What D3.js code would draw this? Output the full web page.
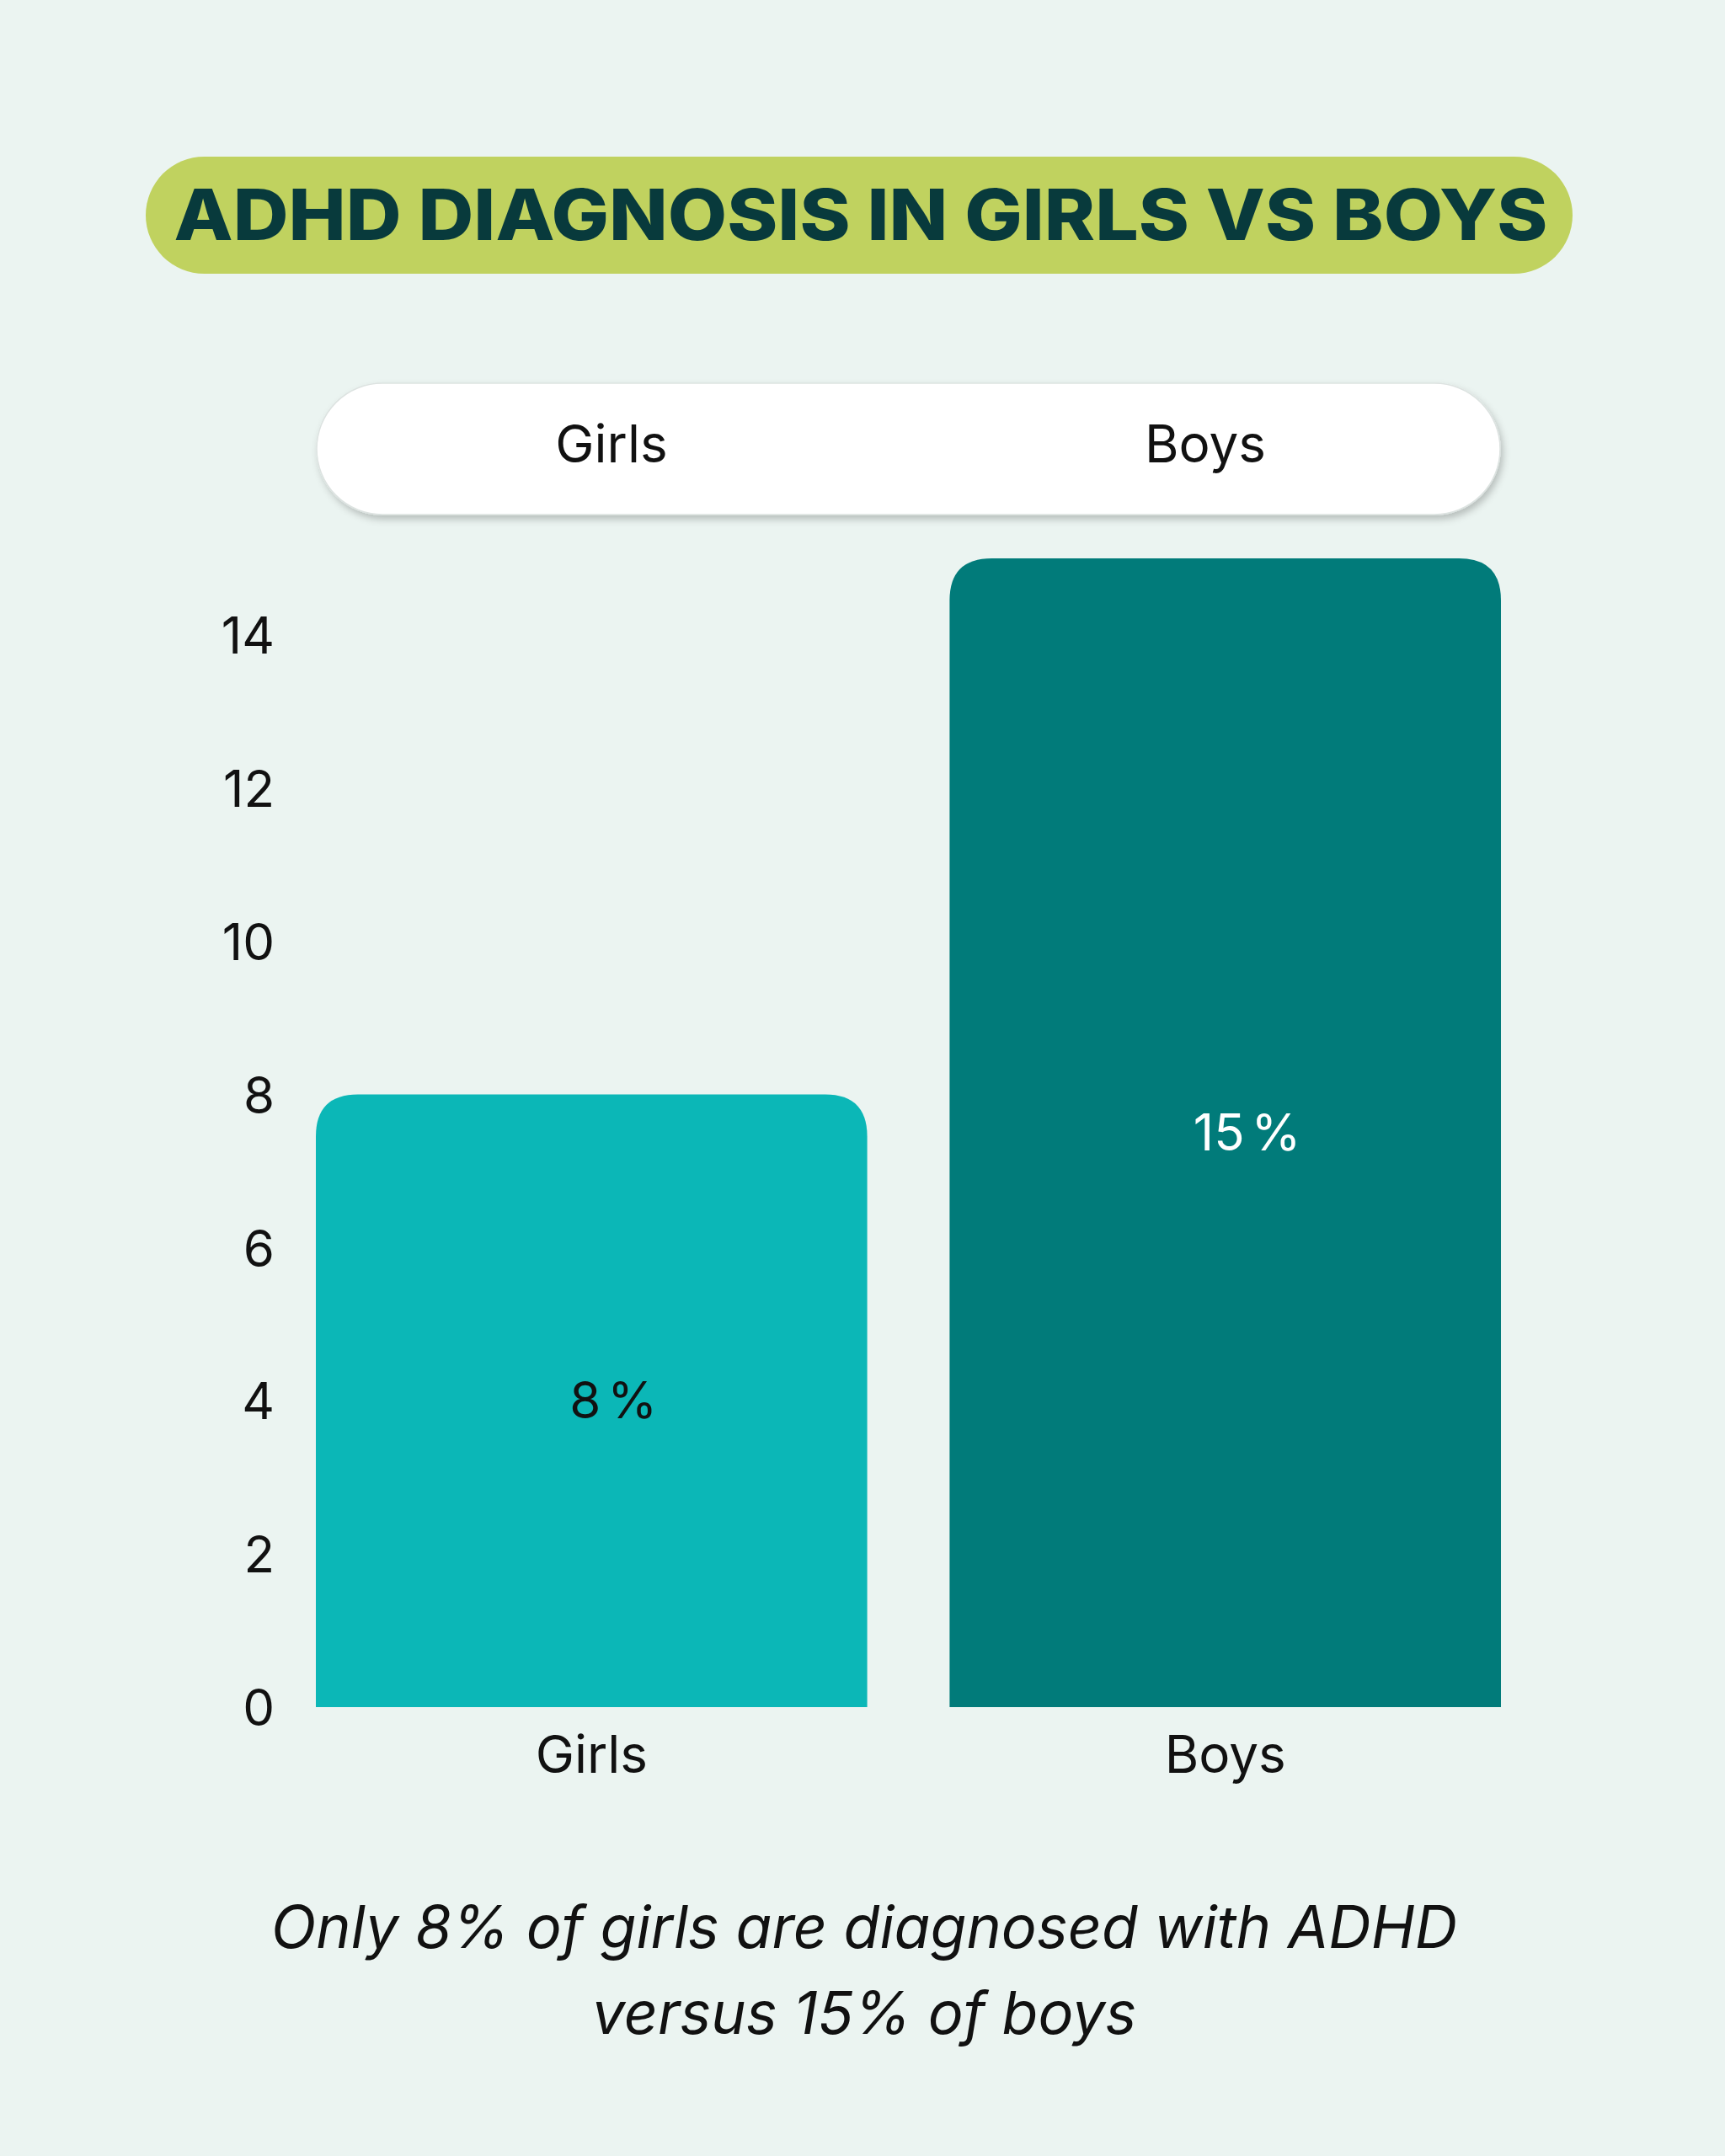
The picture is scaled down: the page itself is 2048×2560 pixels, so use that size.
<!DOCTYPE html>
<html>
<head>
<meta charset="utf-8">
<script src="https://cdn.jsdelivr.net/npm/d3@7"></script>
<style>
  html, body { margin: 0; padding: 0; background: #ebf4f1; }
  svg { display: block; }
</style>
</head>
<body>
<script>
const categories = ["Girls", "Boys"];
const values = [8, 15];
const valueLabels = ["8 %", "15 %"];
const barColors = ["#0bb7b7", "#017b7a"];
const labelColors = ["#111111", "#ffffff"];
const yTicks = [0, 2, 4, 6, 8, 10, 12, 14];
const title = "ADHD DIAGNOSIS IN GIRLS VS BOYS";
const captionLines = ["Only 8% of girls are diagnosed with ADHD", "versus 15% of boys"];

const W = 2048, H = 2560;
const FONT = "Inter, 'DejaVu Sans', sans-serif";

const svg = d3.select("body").append("svg").attr("width", W).attr("height", H);
svg.append("rect").attr("width", W).attr("height", H).attr("fill", "#ebf4f1");

const defs = svg.append("defs");
const f = defs.append("filter").attr("id", "shadow").attr("x", "-10%").attr("y", "-30%").attr("width", "120%").attr("height", "170%");
f.append("feDropShadow").attr("dx", 3).attr("dy", 5).attr("stdDeviation", 4).attr("flood-color", "#000").attr("flood-opacity", 0.22);

// Title pill
const tp = { x: 173, y: 186, w: 1694, h: 139 };
svg.append("rect").attr("x", tp.x).attr("y", tp.y).attr("width", tp.w).attr("height", tp.h)
  .attr("rx", tp.h / 2).attr("fill", "#c0d25f");
svg.append("text").attr("x", 1022).attr("y", 285)
  .attr("text-anchor", "middle").attr("font-family", FONT).attr("font-weight", 800)
  .attr("font-size", 84).attr("fill", "#083a3c")
  .attr("textLength", 1631).attr("lengthAdjust", "spacingAndGlyphs")
  .text(title);

// Legend pill
const lp = { x: 376, y: 455, w: 1405, h: 156 };
svg.append("rect").attr("x", lp.x).attr("y", lp.y).attr("width", lp.w).attr("height", lp.h)
  .attr("rx", lp.h / 2).attr("fill", "#ffffff").attr("stroke", "#dde3e1").attr("stroke-width", 1.5)
  .attr("filter", "url(#shadow)");
const legendX = d3.scalePoint().domain(categories).range([726, 1431]);
svg.append("g").selectAll("text").data(categories).join("text")
  .attr("x", d => legendX(d)).attr("y", 549)
  .attr("text-anchor", "middle").attr("font-family", FONT).attr("font-size", 62)
  .attr("fill", "#111").text(d => d);

// Scales
const x = d3.scaleBand().domain(categories).range([375, 1782]).paddingInner(0.13).paddingOuter(0);
const y = d3.scaleLinear().domain([0, 15]).range([2027, 663]);

// Bars with rounded top corners
const r = 50;
function barPath(d, i) {
  const x0 = x(categories[i]), x1 = x0 + x.bandwidth();
  const yt = y(d), yb = y(0);
  return `M${x0},${yb}L${x0},${yt + r}Q${x0},${yt} ${x0 + r},${yt}L${x1 - r},${yt}Q${x1},${yt} ${x1},${yt + r}L${x1},${yb}Z`;
}
svg.append("g").selectAll("path").data(values).join("path")
  .attr("d", barPath).attr("fill", (d, i) => barColors[i]);

// Value labels
svg.append("g").selectAll("text").data(values).join("text")
  .attr("x", (d, i) => x(categories[i]) + x.bandwidth() / 2 + 26)
  .attr("y", d => (y(d) + y(0)) / 2)
  .attr("dy", "0.35em")
  .attr("text-anchor", "middle").attr("font-family", FONT).attr("font-size", 60)
  .attr("word-spacing", -9)
  .attr("fill", (d, i) => labelColors[i])
  .text((d, i) => valueLabels[i]);

// Y axis
const yAxis = svg.append("g").attr("transform", "translate(326,0)")
  .call(d3.axisLeft(y).tickValues(yTicks).tickSize(0).tickPadding(0));
yAxis.select(".domain").remove();
yAxis.selectAll("text").attr("font-family", FONT).attr("font-size", 60).attr("fill", "#111").attr("dy", "0.36em");

// X axis
const xAxis = svg.append("g").attr("transform", `translate(0,${y(0)})`)
  .call(d3.axisBottom(x).tickSize(0).tickPadding(34));
xAxis.select(".domain").remove();
xAxis.selectAll("text").attr("font-family", FONT).attr("font-size", 62).attr("fill", "#111");

// Caption
svg.append("g").selectAll("text").data(captionLines).join("text")
  .attr("x", 1026).attr("y", (d, i) => 2313 + i * 102)
  .attr("text-anchor", "middle").attr("font-family", FONT).attr("font-style", "italic")
  .attr("font-size", 70).attr("fill", "#111").text(d => d);
</script>
</body>
</html>
